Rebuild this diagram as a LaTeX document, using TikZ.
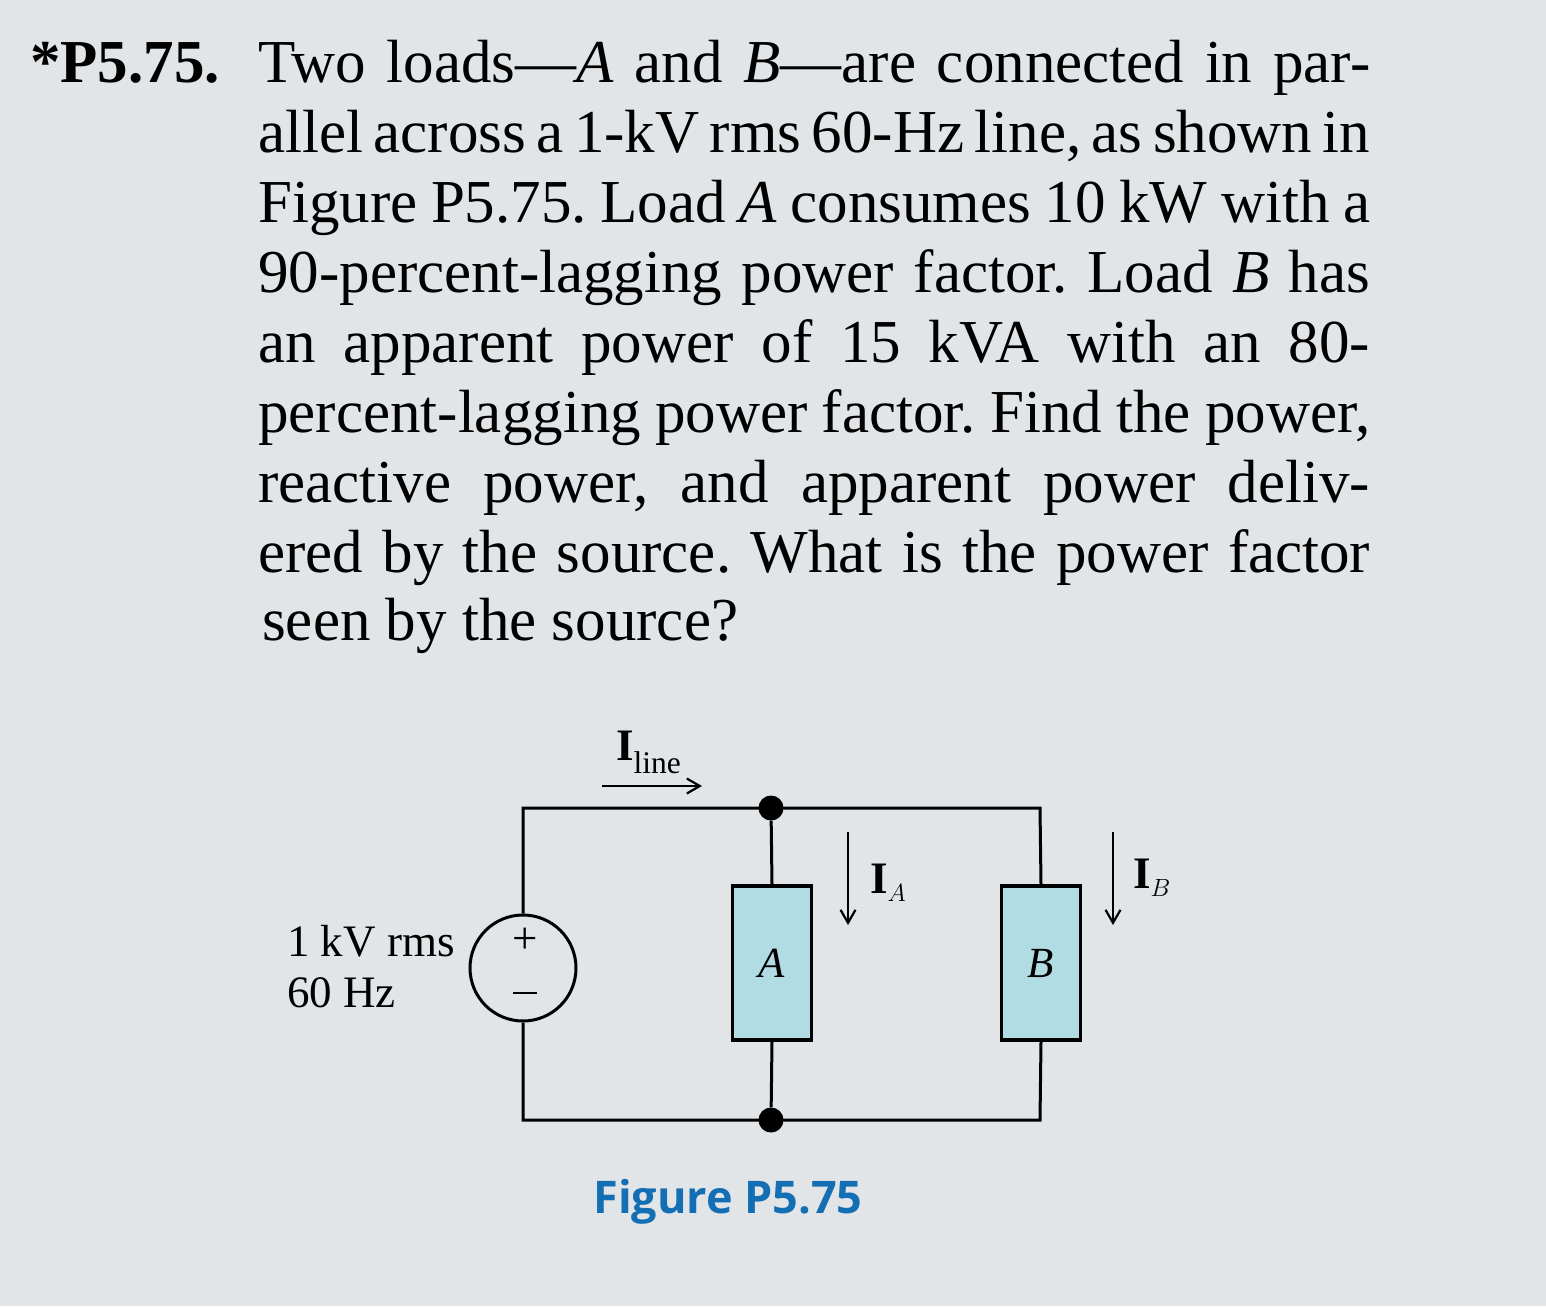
\documentclass[tikz,border=0pt]{standalone}
\usepackage{fontspec}
\setmainfont{Liberation Serif}
\newfontfamily\figfont{Open Sans}
\usetikzlibrary{arrows.meta}
\definecolor{bg}{RGB}{226,229,231}
\definecolor{loadblue}{RGB}{178,220,228}
\definecolor{figblue}{RGB}{20,110,180}
\frenchspacing
\tikzset{
  txt/.style={anchor=base west,inner sep=0pt,font=\fontsize{61}{66}\selectfont},
  wire/.style={line width=3pt},
  lbl/.style={font=\fontsize{45}{50}\selectfont,inner sep=0pt},
  loadbox/.style={draw,line width=3.5pt,fill=loadblue,minimum width=79pt,minimum height=154pt,inner sep=0pt},
  dot/.style={circle,fill,inner sep=0pt,minimum size=25pt},
  cur/.style={line width=2.2pt,-{Straight Barb[length=13pt,width=15pt]}}
}
\begin{document}
\begin{tikzpicture}[x=1pt,y=-1pt]
\fill[bg] (0,0) rectangle (1546,1306);
\useasboundingbox (0,0) rectangle (1546,1306);
\node[txt] (num) at (30,82) {\textbf{*P5.75.}};
\node[txt] (l1) at (258,82) {\makebox[1112pt][s]{Two loads---\textit{A} and \textit{B}---are connected in par-}};
\node[txt] (l2) at (258,152) {\makebox[1112pt][s]{allel across a 1-kV rms 60-Hz line, as shown in}};
\node[txt] (l3) at (258,222) {\makebox[1112pt][s]{Figure P5.75. Load \textit{A} consumes 10 kW with a}};
\node[txt] (l4) at (258,292) {\makebox[1112pt][s]{90-percent-lagging power factor. Load \textit{B} has}};
\node[txt] (l5) at (258,362) {\makebox[1112pt][s]{an apparent power of 15 kVA with an 80-}};
\node[txt] (l6) at (258,432) {\makebox[1112pt][s]{percent-lagging power factor. Find the power,}};
\node[txt] (l7) at (258,502) {\makebox[1112pt][s]{reactive power, and apparent power deliv-}};
\node[txt] (l8) at (258,572) {\makebox[1112pt][s]{ered by the source. What is the power factor}};
\node[txt] (l9) at (262,640) {seen by the source?};
% circuit
\coordinate (tl) at (523,808);
\coordinate (bl) at (523,1120);
\coordinate (tr) at (1040,808);
\coordinate (br) at (1040,1120);
\node[dot] (dt) at (771,808) {};
\node[dot] (db) at (771,1120) {};
\node[circle,draw,line width=3pt,minimum size=106pt,inner sep=0pt,fill=bg] (src) at (523,968) {};
\node[lbl] at (525,941) {+};
\draw[line width=2pt] (513,993) -- (537,993);
\node[loadbox] (A) at (772,963) {\fontsize{43}{46}\selectfont\textit{A}};
\node[loadbox] (B) at (1041,963) {\fontsize{43}{46}\selectfont\textit{B}};
\draw[wire] (src.north) -- (tl) -- (tr) -- (B.north);
\draw[wire] (src.south) -- (bl) -- (br) -- (B.south);
\draw[wire] (dt) -- (A.north);
\draw[wire] (db) -- (A.south);
\coordinate (il1) at (602,786); \coordinate (il2) at (702,786);
\draw[cur] (il1) -- (il2);
\node[lbl,anchor=base west] (ill) at (616,760) {$\mathbf{I}_{\mathrm{line}}$};
\coordinate (ia1) at (848,832); \coordinate (ia2) at (848,925);
\draw[cur] (ia1) -- (ia2);
\node[lbl,anchor=base west] (ial) at (870,893) {$\mathbf{I}_{A}$};
\coordinate (ib1) at (1113,832); \coordinate (ib2) at (1113,925);
\draw[cur] (ib1) -- (ib2);
\node[lbl,anchor=base west] (ibl) at (1133,888) {$\mathbf{I}_{B}$};
\node[lbl,anchor=base west] (vs1) at (287,956) {1 kV rms};
\node[lbl,anchor=base west] (vs2) at (287,1007) {60 Hz};
\node[anchor=base,inner sep=0pt,font=\figfont\bfseries\fontsize{45}{50}\selectfont,text=figblue] (fig) at (728,1213) {Figure P5.75};
\end{tikzpicture}
\end{document}
